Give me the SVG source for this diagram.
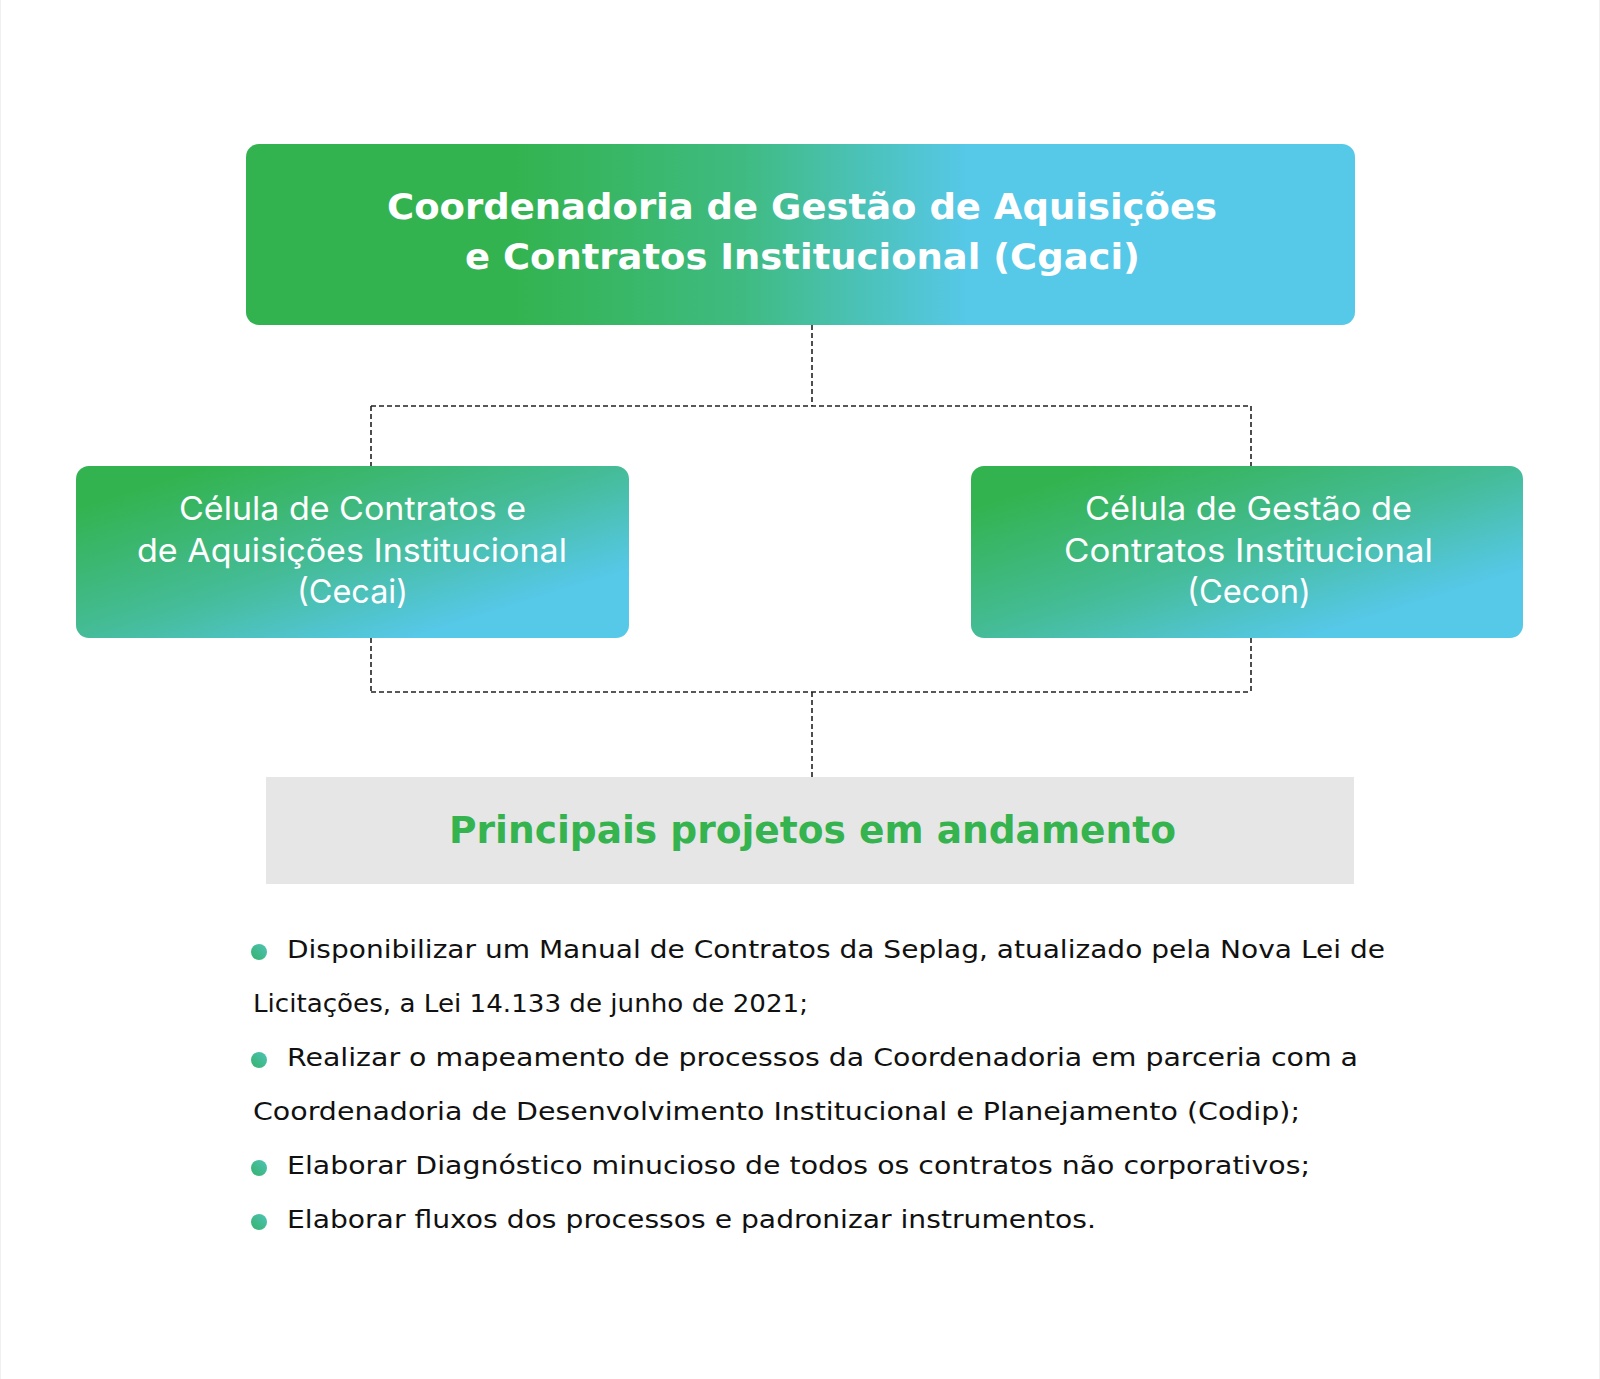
<svg xmlns="http://www.w3.org/2000/svg" width="1600" height="1379" viewBox="0 0 1600 1379">
<defs>
<linearGradient id="gTop" x1="0" y1="0" x2="1" y2="0">
<stop offset="0.24" stop-color="#33b34f"/>
<stop offset="0.45" stop-color="#3fbb82"/>
<stop offset="0.65" stop-color="#56c8e8"/>
<stop offset="1" stop-color="#56c8e8"/>
</linearGradient>
<linearGradient id="gCell" x1="0" y1="0" x2="1" y2="1">
<stop offset="0.12" stop-color="#33b34f"/>
<stop offset="0.5" stop-color="#45bc98"/>
<stop offset="0.8" stop-color="#56c8e8"/>
<stop offset="1" stop-color="#56c8e8"/>
</linearGradient>
<linearGradient id="gDot" x1="0" y1="1" x2="1" y2="0">
<stop offset="0" stop-color="#35b36a"/>
<stop offset="1" stop-color="#4fc3b8"/>
</linearGradient>
</defs>
<style>
.conn{fill:none;stroke:#222;stroke-width:1.6;stroke-dasharray:5 3}
.title{font-family:"DejaVu Sans","Liberation Sans",sans-serif;font-weight:700;fill:#fff;font-size:35px}
.cell{font-family:Inter,"Liberation Sans",sans-serif;font-weight:400;fill:#fff;font-size:33px}
.head{font-family:"DejaVu Sans","Liberation Sans",sans-serif;font-weight:700;fill:#34b34f;font-size:37px}
.body{font-family:"DejaVu Sans","Liberation Sans",sans-serif;font-weight:400;fill:#111;font-size:25px}
.dot{fill:url(#gDot)}
</style>
<rect x="0" y="0" width="1600" height="1379" fill="#fff"/>
<line x1="0.5" y1="0" x2="0.5" y2="1379" stroke="#f0f0f0" stroke-width="1"/>
<line x1="1599.5" y1="0" x2="1599.5" y2="1379" stroke="#f0f0f0" stroke-width="1"/>

<g id="connectors">
<path class="conn" d="M812 325 V406 M371 406 H1251 M371 406 V466 M1251 406 V466"/>
<path class="conn" d="M371 638 V692 M1251 638 V692 M371 692 H1251 M812 692 V777"/>
</g>

<g id="cgaci">
<rect x="246" y="144" width="1109" height="181" rx="13" fill="url(#gTop)"/>
<text class="title" x="387" y="219" textLength="830" lengthAdjust="spacingAndGlyphs">Coordenadoria de Gestão de Aquisições</text>
<text class="title" x="465" y="269" textLength="675" lengthAdjust="spacingAndGlyphs">e Contratos Institucional (Cgaci)</text>
</g>

<g id="cecai">
<rect x="76" y="466" width="553" height="172" rx="13" fill="url(#gCell)"/>
<text class="cell" x="179" y="520" textLength="347" lengthAdjust="spacingAndGlyphs">Célula de Contratos e</text>
<text class="cell" x="137" y="562" textLength="430" lengthAdjust="spacingAndGlyphs">de Aquisições Institucional</text>
<text class="cell" x="297" y="603" textLength="111" lengthAdjust="spacingAndGlyphs">(Cecai)</text>
</g>

<g id="cecon">
<rect x="971" y="466" width="552" height="172" rx="13" fill="url(#gCell)"/>
<text class="cell" x="1085" y="520" textLength="327" lengthAdjust="spacingAndGlyphs">Célula de Gestão de</text>
<text class="cell" x="1064" y="562" textLength="369" lengthAdjust="spacingAndGlyphs">Contratos Institucional</text>
<text class="cell" x="1187" y="603" textLength="124" lengthAdjust="spacingAndGlyphs">(Cecon)</text>
</g>

<g id="projetos">
<rect x="266" y="777" width="1088" height="107" fill="#e6e6e6"/>
<text class="head" x="449" y="843" textLength="727" lengthAdjust="spacingAndGlyphs">Principais projetos em andamento</text>
</g>

<g id="lista">
<circle class="dot" cx="259" cy="952" r="8"/>
<text class="body" x="287" y="958" textLength="1098" lengthAdjust="spacingAndGlyphs">Disponibilizar um Manual de Contratos da Seplag, atualizado pela Nova Lei de</text>
<text class="body" x="253" y="1012" textLength="555" lengthAdjust="spacingAndGlyphs">Licitações, a Lei 14.133 de junho de 2021;</text>
<circle class="dot" cx="259" cy="1060" r="8"/>
<text class="body" x="287" y="1066" textLength="1071" lengthAdjust="spacingAndGlyphs">Realizar o mapeamento de processos da Coordenadoria em parceria com a</text>
<text class="body" x="253" y="1120" textLength="1047" lengthAdjust="spacingAndGlyphs">Coordenadoria de Desenvolvimento Institucional e Planejamento (Codip);</text>
<circle class="dot" cx="259" cy="1168" r="8"/>
<text class="body" x="287" y="1174" textLength="1023" lengthAdjust="spacingAndGlyphs">Elaborar Diagnóstico minucioso de todos os contratos não corporativos;</text>
<circle class="dot" cx="259" cy="1222" r="8"/>
<text class="body" x="287" y="1228" textLength="809" lengthAdjust="spacingAndGlyphs">Elaborar fluxos dos processos e padronizar instrumentos.</text>
</g>
</svg>
